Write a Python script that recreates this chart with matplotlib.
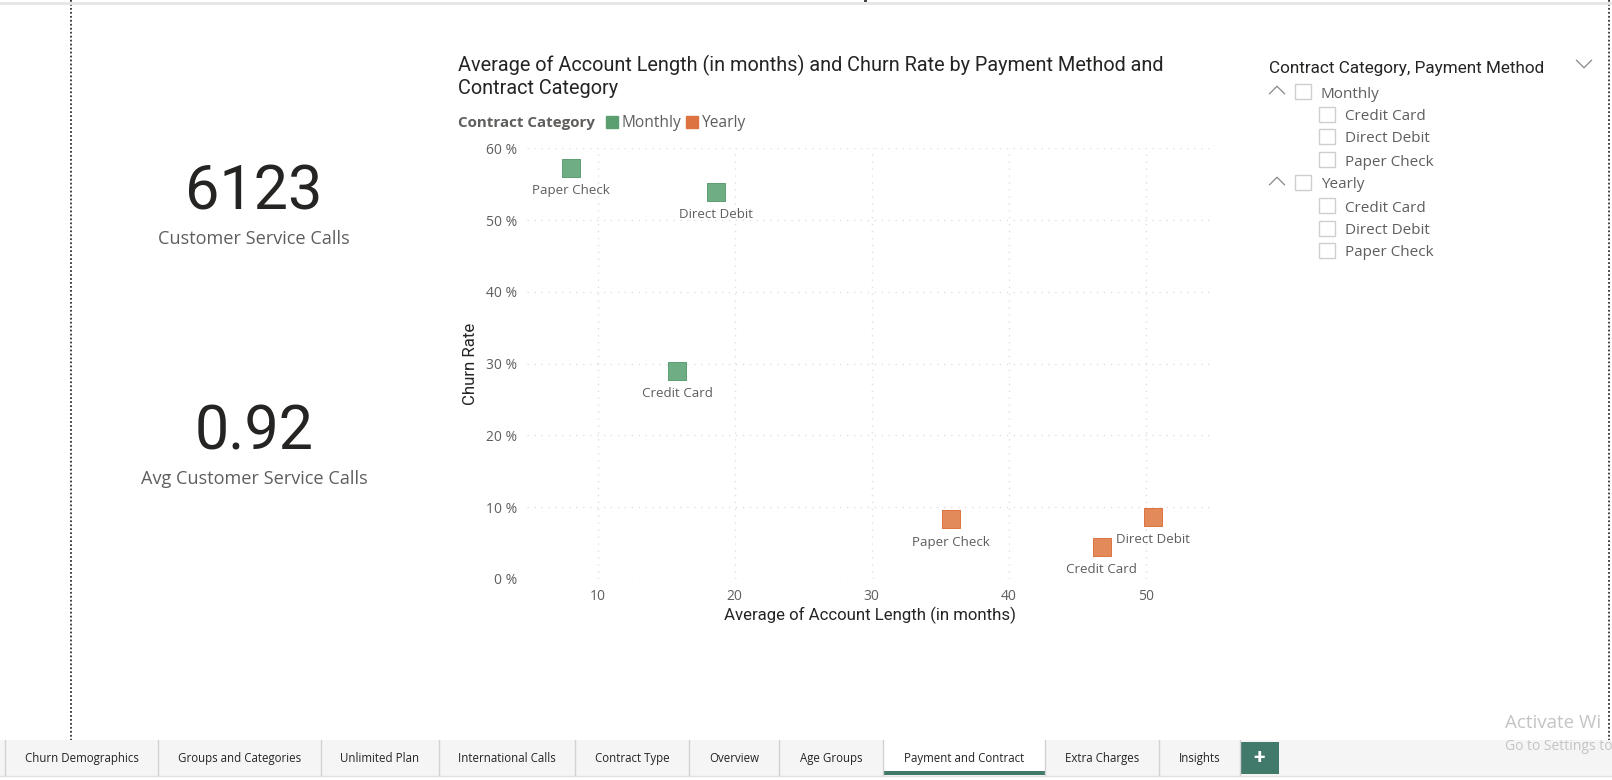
import matplotlib
matplotlib.use("Agg")
import matplotlib.pyplot as plt
from matplotlib.patches import Rectangle
from matplotlib.lines import Line2D
from matplotlib.ticker import FuncFormatter

W, H = 1612, 780
DIN = "Roboto"
UI = "Open Sans"

categories = ["Monthly", "Yearly"]
monthly_methods = ["Credit Card", "Direct Debit", "Paper Check"]
monthly_length = [15.8, 18.66, 8.03]
monthly_churn = [29.0, 53.9, 57.3]
yearly_methods = ["Credit Card", "Direct Debit", "Paper Check"]
yearly_length = [46.8, 50.5, 35.8]
yearly_churn = [4.45, 8.6, 8.3]
x_ticks = [10, 20, 30, 40, 50]
y_ticks = [0, 10, 20, 30, 40, 50, 60]
cards = [("6123", "Customer Service Calls"), ("0.92", "Avg Customer Service Calls")]
tabs = ["Churn Demographics", "Groups and Categories", "Unlimited Plan", "International Calls",
        "Contract Type", "Overview", "Age Groups", "Payment and Contract", "Extra Charges", "Insights"]
tab_edges = [5, 158, 321, 439, 575, 689, 779, 883, 1045, 1159, 1240]
active_tab = "Payment and Contract"

GREEN, ORANGE = "#5B9F71", "#DD7340"
TXT, GREY = "#252423", "#605E5C"

fig = plt.figure(figsize=(W / 100, H / 100), dpi=100, facecolor="white")

# overlay in pixel coordinates for the report chrome
bg = fig.add_axes([0, 0, 1, 1], zorder=0)
bg.set_xlim(0, W); bg.set_ylim(H, 0); bg.axis("off")

# chart
ax = fig.add_axes([527 / W, 1 - 579 / H, (1213 - 527) / W, (579 - 148.3) / H], zorder=2)
ax.patch.set_alpha(0)
ax.set_xlim(4.84, 54.91); ax.set_ylim(0, 60)
ax.set_xticks(x_ticks); ax.set_yticks(y_ticks)
ax.yaxis.set_major_formatter(FuncFormatter(lambda v, _: f"{v:.0f} %"))
ax.grid(True, color="#E0E0E0", linestyle=(0, (1, 4)), linewidth=1.0)
ax.set_axisbelow(True)
for s in ax.spines.values():
    s.set_visible(False)
ax.tick_params(length=0, labelsize=10, labelcolor=GREY, pad=7)
for t in ax.get_xticklabels() + ax.get_yticklabels():
    t.set_fontfamily(UI)
ax.set_xlabel("Average of Account Length (in months)", family=DIN, fontsize=12.1, color=TXT, labelpad=2.5)
ax.set_ylabel("Churn Rate", family=DIN, fontsize=12.1, color=TXT, labelpad=5.5)

for xs, ys, names, fc, ec in [(monthly_length, monthly_churn, monthly_methods, "#6FAD85", "#5B9F71"),
                              (yearly_length, yearly_churn, yearly_methods, "#E28A5A", "#DD7340")]:
    ax.scatter(xs, ys, marker="s", s=(17.5 * 0.72) ** 2, facecolor=fc, edgecolor=ec, linewidth=0.7, zorder=3)
    for x, y, n in zip(xs, ys, names):
        ax.annotate(n, (x, y), xytext=(0, -16.3), textcoords="offset points", ha="center", va="center",
                    family=UI, fontsize=9.6, color=GREY, zorder=4)

# chart title
fig.text(458 / W, 1 - 65 / H, "Average of Account Length (in months) and Churn Rate by Payment Method and",
         family=DIN, fontsize=14.3, color=TXT, va="center")
fig.text(458 / W, 1 - 88 / H, "Contract Category", family=DIN, fontsize=14.3, color=TXT, va="center")

# legend
fig.text(458 / W, 1 - 122.5 / H, "Contract Category", family=UI, fontweight="bold", fontsize=10.9, color=GREY, va="center")
handles = [Line2D([], [], marker="s", linestyle="", markersize=8.5, color=GREEN, label=categories[0]),
           Line2D([], [], marker="s", linestyle="", markersize=8.5, color=ORANGE, label=categories[1])]
fig.legend(handles=handles, loc="center left", bbox_to_anchor=(596 / W, 1 - 123 / H), ncols=2, frameon=False,
           prop={"family": UI, "size": 11.2}, labelcolor=GREY, handletextpad=-0.35, columnspacing=-0.3,
           borderpad=0, borderaxespad=0)

# KPI cards
for (val, lab), yv, yl in zip(cards, [192, 433], [239.5, 479]):
    bg.text(254, yv, val, family=DIN, fontsize=44, color=TXT, ha="center", va="center")
    bg.text(254, yl, lab, family=UI, fontsize=13.1, color=GREY, ha="center", va="center")

# dotted page frame
for x in (71, 1609):
    bg.plot([x, x], [0, 740], color="#333333", linestyle=(0, (1, 1.2)), linewidth=1.3)
bg.plot([0, W], [2.5, 2.5], color="#E6E6E6", linewidth=2)
bg.add_patch(Rectangle((864, 0), 3, 1.5, facecolor="#444444", edgecolor="none", zorder=5))

# slicer
def chevron(x, y, up=True, size=7.5):
    d = -size / 2 if up else size / 2
    bg.plot([x - size, x, x + size], [y - d, y + d, y - d], color="#8A8886", linewidth=0.9)

def box(x, y):
    bg.add_patch(Rectangle((x, y - 7.5), 15.5, 15, facecolor="white", edgecolor="#D0CECC", linewidth=1))

bg.text(1269, 69, "Contract Category, Payment Method", family=DIN, fontsize=12.3, color=TXT, va="center")
chevron(1584, 64, up=False)
for cat, y0, kids, ky in [(categories[0], 92, monthly_methods, [115, 137, 160]),
                          (categories[1], 183, yearly_methods, [206, 229, 251])]:
    chevron(1277, y0 - 2)
    box(1295, y0 - 1)
    bg.text(1321, y0 + 2, cat, family=UI, fontsize=11, color=GREY, va="center")
    for k, y in zip(kids, ky):
        box(1319, y - 1)
        bg.text(1345, y + 2, k, family=UI, fontsize=11, color=GREY, va="center")

# tab bar
bg.add_patch(Rectangle((0, 740), W, 36, facecolor="#F5F5F5", edgecolor="none"))
bg.plot([0, W], [776, 776], color="#E1E1E1", linewidth=1)
for x in tab_edges:
    bg.plot([x, x], [740, 775], color="#D2D2D2", linewidth=1)
for name, a, b in zip(tabs, tab_edges[:-1], tab_edges[1:]):
    if name == active_tab:
        bg.add_patch(Rectangle((a, 740), b - a, 32, facecolor="white", edgecolor="none"))
        bg.add_patch(Rectangle((a, 771), b - a, 4, facecolor="#41796B", edgecolor="none"))
    bg.text((a + b) / 2, 758.5, name, family=UI, fontsize=8.3, color="#252423", ha="center", va="center")
bg.add_patch(Rectangle((1240, 742), 39, 32, facecolor="#41796B", edgecolor="none"))
bg.text(1259.5, 758, "+", family=DIN, fontsize=15, fontweight="bold", color="white", ha="center", va="center")

# watermark, cut by the page edge as in the screenshot
bg.text(1505, 723, "Activate Wi", family=UI, fontsize=13.5, color="#C4C4C4", va="center", zorder=6)
bg.text(1505, 747, "Go to Settings to", family=UI, fontsize=10, color="#C4C4C4", va="center", zorder=6)

fig.savefig("out.png", dpi=100)
